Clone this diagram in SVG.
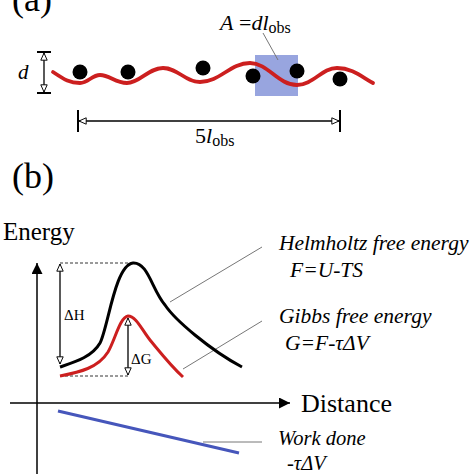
<svg xmlns="http://www.w3.org/2000/svg" width="474" height="474" viewBox="0 0 474 474">
<style>
text{font-family:"Liberation Serif","Times New Roman",serif;fill:#000}
.it{font-style:italic}
.thin{stroke:#000;stroke-width:1.3;fill:none}
.lead{stroke:#777;stroke-width:1;fill:none}
.dash{stroke:#000;stroke-width:0.8;stroke-dasharray:3,2;fill:none}
.dot{fill:#000}
</style>
<defs>
<marker id="open" viewBox="0 0 10 10" refX="9.5" refY="5" markerWidth="8" markerHeight="8" orient="auto-start-reverse" markerUnits="userSpaceOnUse">
<path d="M0.5,1 L9.5,5 L0.5,9 Z" fill="#fff" stroke="#000" stroke-width="1.2"/>
</marker>
<marker id="solid" viewBox="0 0 10 10" refX="10" refY="5" markerWidth="16" markerHeight="11" orient="auto" markerUnits="userSpaceOnUse">
<path d="M0,0 L10,5 L0,10 Z" fill="#000"/>
</marker>
</defs>

<g id="panel-a">
<text x="12" y="11" font-size="36">(a)</text>
<g id="d-dim">
<text x="18" y="79" font-size="21" class="it">d</text>
<line x1="37" y1="52" x2="51" y2="52" stroke="#000" stroke-width="2"/>
<line x1="37" y1="93" x2="51" y2="93" stroke="#000" stroke-width="2"/>
<line x1="44" y1="53" x2="44" y2="92" class="thin" marker-start="url(#open)" marker-end="url(#open)"/>
</g>
<rect id="area" x="255" y="55" width="43" height="41" fill="#8d9bdb" opacity="0.9"/>
<path id="chain" d="M53,72 C65,80 70,83 80,83 C88,83 92,75 100,75 C110,75 115,83 127,83 C140,83 148,68 163,68 C178,68 185,82 200,82 C220,82 230,63 250,63 C268,63 278,85 297,85 C313,85 322,68 337,68 C352,68 362,77 373,83" fill="none" stroke="#cc1f1f" stroke-width="3.8" stroke-linecap="round"/>
<g id="particles">
<circle class="dot" cx="80" cy="72" r="7.5"/>
<circle class="dot" cx="128" cy="72" r="7.5"/>
<circle class="dot" cx="203" cy="68" r="7.5"/>
<circle class="dot" cx="253" cy="76" r="7.5"/>
<circle class="dot" cx="297" cy="71" r="7.5"/>
<circle class="dot" cx="340" cy="79" r="7.5"/>
</g>
<g id="area-label">
<line x1="263" y1="33" x2="278" y2="60" class="lead"/>
<text x="220" y="30" font-size="22"><tspan class="it">A</tspan> =<tspan class="it">dl</tspan><tspan font-size="16" dy="3">obs</tspan></text>
</g>
<g id="length-dim">
<line x1="78" y1="110" x2="78" y2="132" stroke="#000" stroke-width="2"/>
<line x1="340" y1="110" x2="340" y2="132" stroke="#000" stroke-width="2"/>
<line x1="79" y1="121" x2="339" y2="121" class="thin" marker-start="url(#open)" marker-end="url(#open)"/>
<text x="195" y="143" font-size="22">5<tspan class="it">l</tspan><tspan font-size="16" dy="3">obs</tspan></text>
</g>
</g>

<g id="panel-b">
<text x="12" y="188" font-size="36">(b)</text>
<g id="axes">
<line x1="37" y1="474" x2="37" y2="263" stroke="#000" stroke-width="1.5" marker-end="url(#solid)"/>
<line x1="10" y1="403" x2="290" y2="403" stroke="#000" stroke-width="1.5" marker-end="url(#solid)"/>
<text x="3" y="240" font-size="25">Energy</text>
<text x="301" y="412" font-size="26">Distance</text>
</g>
<g id="connectors">
<line x1="60" y1="263" x2="133" y2="263" class="dash"/>
<line x1="60" y1="376" x2="130" y2="376" class="dash"/>
<line x1="60" y1="264" x2="60" y2="364" class="thin" marker-start="url(#open)" marker-end="url(#open)"/>
<line x1="128" y1="318" x2="128" y2="375" class="thin" marker-start="url(#open)" marker-end="url(#open)"/>
<line x1="170" y1="302" x2="262" y2="247" class="lead"/>
<line x1="183" y1="369" x2="262" y2="321" class="lead"/>
<line x1="203" y1="442" x2="262" y2="442" class="lead"/>
</g>
<path id="helmholtz-curve" d="M60,367 C75,362 92,357 100,343 C108,328 115,265 133,263 C148,262 152,290 165,305 C175,320 210,350 242,367" fill="none" stroke="#000" stroke-width="3"/>
<path id="gibbs-curve" d="M60,376 C80,372 98,368 108,352 C115,340 120,317 128,316 C136,316 142,330 150,340 C160,352 170,365 183,377" fill="none" stroke="#cc1f1f" stroke-width="3"/>
<line id="work-line" x1="58" y1="411" x2="239" y2="453" stroke="#4656bb" stroke-width="3"/>
<text x="64" y="320" font-size="15">ΔH</text>
<text x="131" y="364" font-size="15">ΔG</text>
<g id="helmholtz-label">
<text x="279" y="250" font-size="21.5" class="it">Helmholtz free energy</text>
<text x="290" y="277" font-size="21.5" class="it">F=U-TS</text>
</g>
<g id="gibbs-label">
<text x="279" y="323" font-size="21.5" class="it">Gibbs free energy</text>
<text x="285" y="350" font-size="21.5" class="it">G=F-τΔV</text>
</g>
<g id="work-label">
<text x="278" y="445" font-size="20.5" class="it">Work done</text>
<text x="287" y="470" font-size="20.5" class="it">-τΔV</text>
</g>
</g>
</svg>
